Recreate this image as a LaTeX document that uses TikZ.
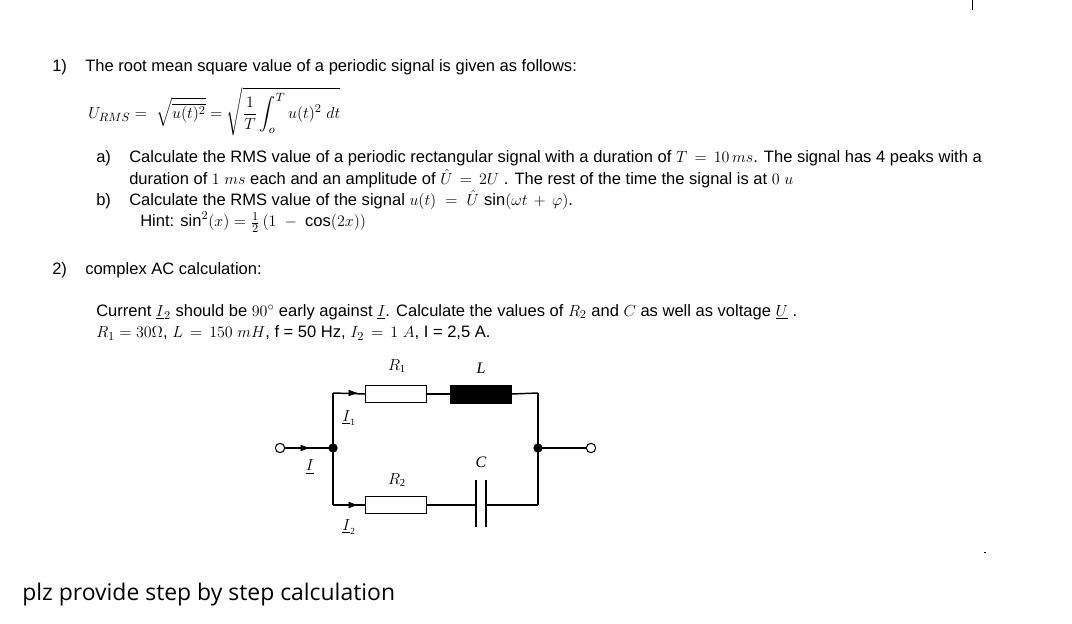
\documentclass[tikz,border=0pt]{standalone}
\usepackage{amsmath}
\usepackage{fontspec}
\usetikzlibrary{arrows.meta}
\setmainfont{Liberation Sans}
\newfontfamily\serifcirc{Liberation Serif}
\newfontfamily\plzfont{Open Sans}
\begin{document}
\begin{tikzpicture}[x=0.75pt,y=-0.75pt,
  txt/.style={anchor=base west,inner sep=0pt,font=\fontsize{12.4}{14}\selectfont},
  lbl/.style={inner sep=0pt,font=\serifcirc\fontsize{12}{14}\selectfont},
  wire/.style={line width=1.1pt},
  res/.style={draw,line width=0.8pt,fill=white,minimum width=45.75pt,minimum height=12.75pt,inner sep=0pt},
  ind/.style={draw,fill=black,minimum width=45.75pt,minimum height=13.5pt,inner sep=0pt},
  term/.style={circle,draw,line width=0.8pt,fill=white,minimum size=7pt,inner sep=0pt},
  dot/.style={circle,fill=black,minimum size=7pt,inner sep=0pt},
  arr/.style={-{Latex[length=7pt,width=5pt]}}]
\useasboundingbox (0,0) rectangle (1072,624);
\draw (972,0) -- (972,10);
\fill (984,552) rectangle (986,553);
\node[txt] (n1) at (52,72) {1)};
\node[txt] (t1) at (85,72) {The root mean square value of a periodic signal is given as follows:};
\node[anchor=west,inner sep=0pt,font=\fontsize{12.4}{14}\selectfont] (f1) at (88,112) {$U_{RMS}=\ \sqrt{\overline{u(t)^2}}=\sqrt{\dfrac{1}{T}\displaystyle\int_{o}^{T}u(t)^2\ dt}$};
\node[txt] (a) at (96,163) {a)};
\node[txt] (at1) at (129,163) {Calculate the RMS value of a periodic rectangular signal with a duration of $T\,=\,10\,ms$. The signal has 4 peaks with a};
\node[txt] (at2) at (129,185) {duration of $1\ ms$ each and an amplitude of $\hat U\,=\,2U$ . The rest of the time the signal is at $0\ u$};
\node[txt] (b) at (96,206) {b)};
\node[txt] (bt) at (129,206) {Calculate the RMS value of the signal $u(t)\ =\ \hat U\,\sin(\omega t\,+\,\varphi)$.};
\node[txt] (h) at (140,227) {Hint: $\sin^2(x)=\frac{1}{2}\,(1\ -\ \cos(2x))$};
\node[txt] (n2) at (52,275) {2)};
\node[txt] (t2) at (85,275) {complex AC calculation:};
\node[txt] (c1) at (96,316) {Current $\underline{I}_2$ should be $90^\circ$ early against $\underline{I}$. Calculate the values of $R_2$ and $C$ as well as voltage $\underline{U}$ .};
\node[txt] (c2) at (96,338) {$R_1=30\Omega$, $L\,=\,150\ mH$, f = 50 Hz, $I_2\,=\,1\ A$, I = 2,5 A.};
\node[anchor=base west,inner sep=0pt,font=\plzfont\fontsize{17.2}{20}\selectfont] (plz) at (22,600) {plz provide step by step calculation};
% circuit
\coordinate (jl) at (333,448);
\coordinate (jr) at (538,448);
\coordinate (tl) at (333,393);
\coordinate (bl) at (333,505);
\coordinate (tr) at (538,393);
\coordinate (br) at (538,505);
\node[res] (r1) at (396,394) {};
\node[ind] (l) at (481,394) {};
\node[res] (r2) at (396,505) {};
\coordinate (cpl) at (476,505);
\coordinate (cpr) at (486,505);
\draw[wire] (tl) -- (bl);
\draw[wire] (tr) -- (br);
\draw[wire] (tl) -- (r1.west);
\draw[wire] (r1.east) -- (l.west);
\draw[wire] (l.east) -- (tr);
\draw[wire] (bl) -- (r2.west);
\draw[wire] (r2.east) -- (cpl);
\draw[wire] (cpr) -- (br);
\draw[line width=1.3pt] (476,480) -- (476,527) (486,480) -- (486,527);
\node[term] (tin) at (280,448) {};
\node[term] (tout) at (591,448) {};
\draw[wire] (tin) -- (jl);
\draw[wire] (jr) -- (tout);
\draw[arr] (tin.east) -- (310,448);
\draw[arr] (333,393) -- (358,393);
\draw[arr] (333,505) -- (358,505);
\node[dot] (dl) at (jl) {};
\node[dot] (dr) at (jr) {};
\node[lbl] at (397,366) {$R_{\text{\serifcirc 1}}$};
\node[lbl] at (481,368) {\itshape L};
\node[lbl] at (481,462) {\itshape C};
\node[lbl] at (397,480) {$R_{\text{\serifcirc 2}}$};
\node[lbl] at (349,418) {$\underline{I}_{\text{\serifcirc\scriptsize 1}}$};
\node[lbl] at (310,467) {$\underline{I}$};
\node[lbl] at (349,527) {$\underline{I}_{\text{\serifcirc\scriptsize 2}}$};
\end{tikzpicture}
\end{document}
